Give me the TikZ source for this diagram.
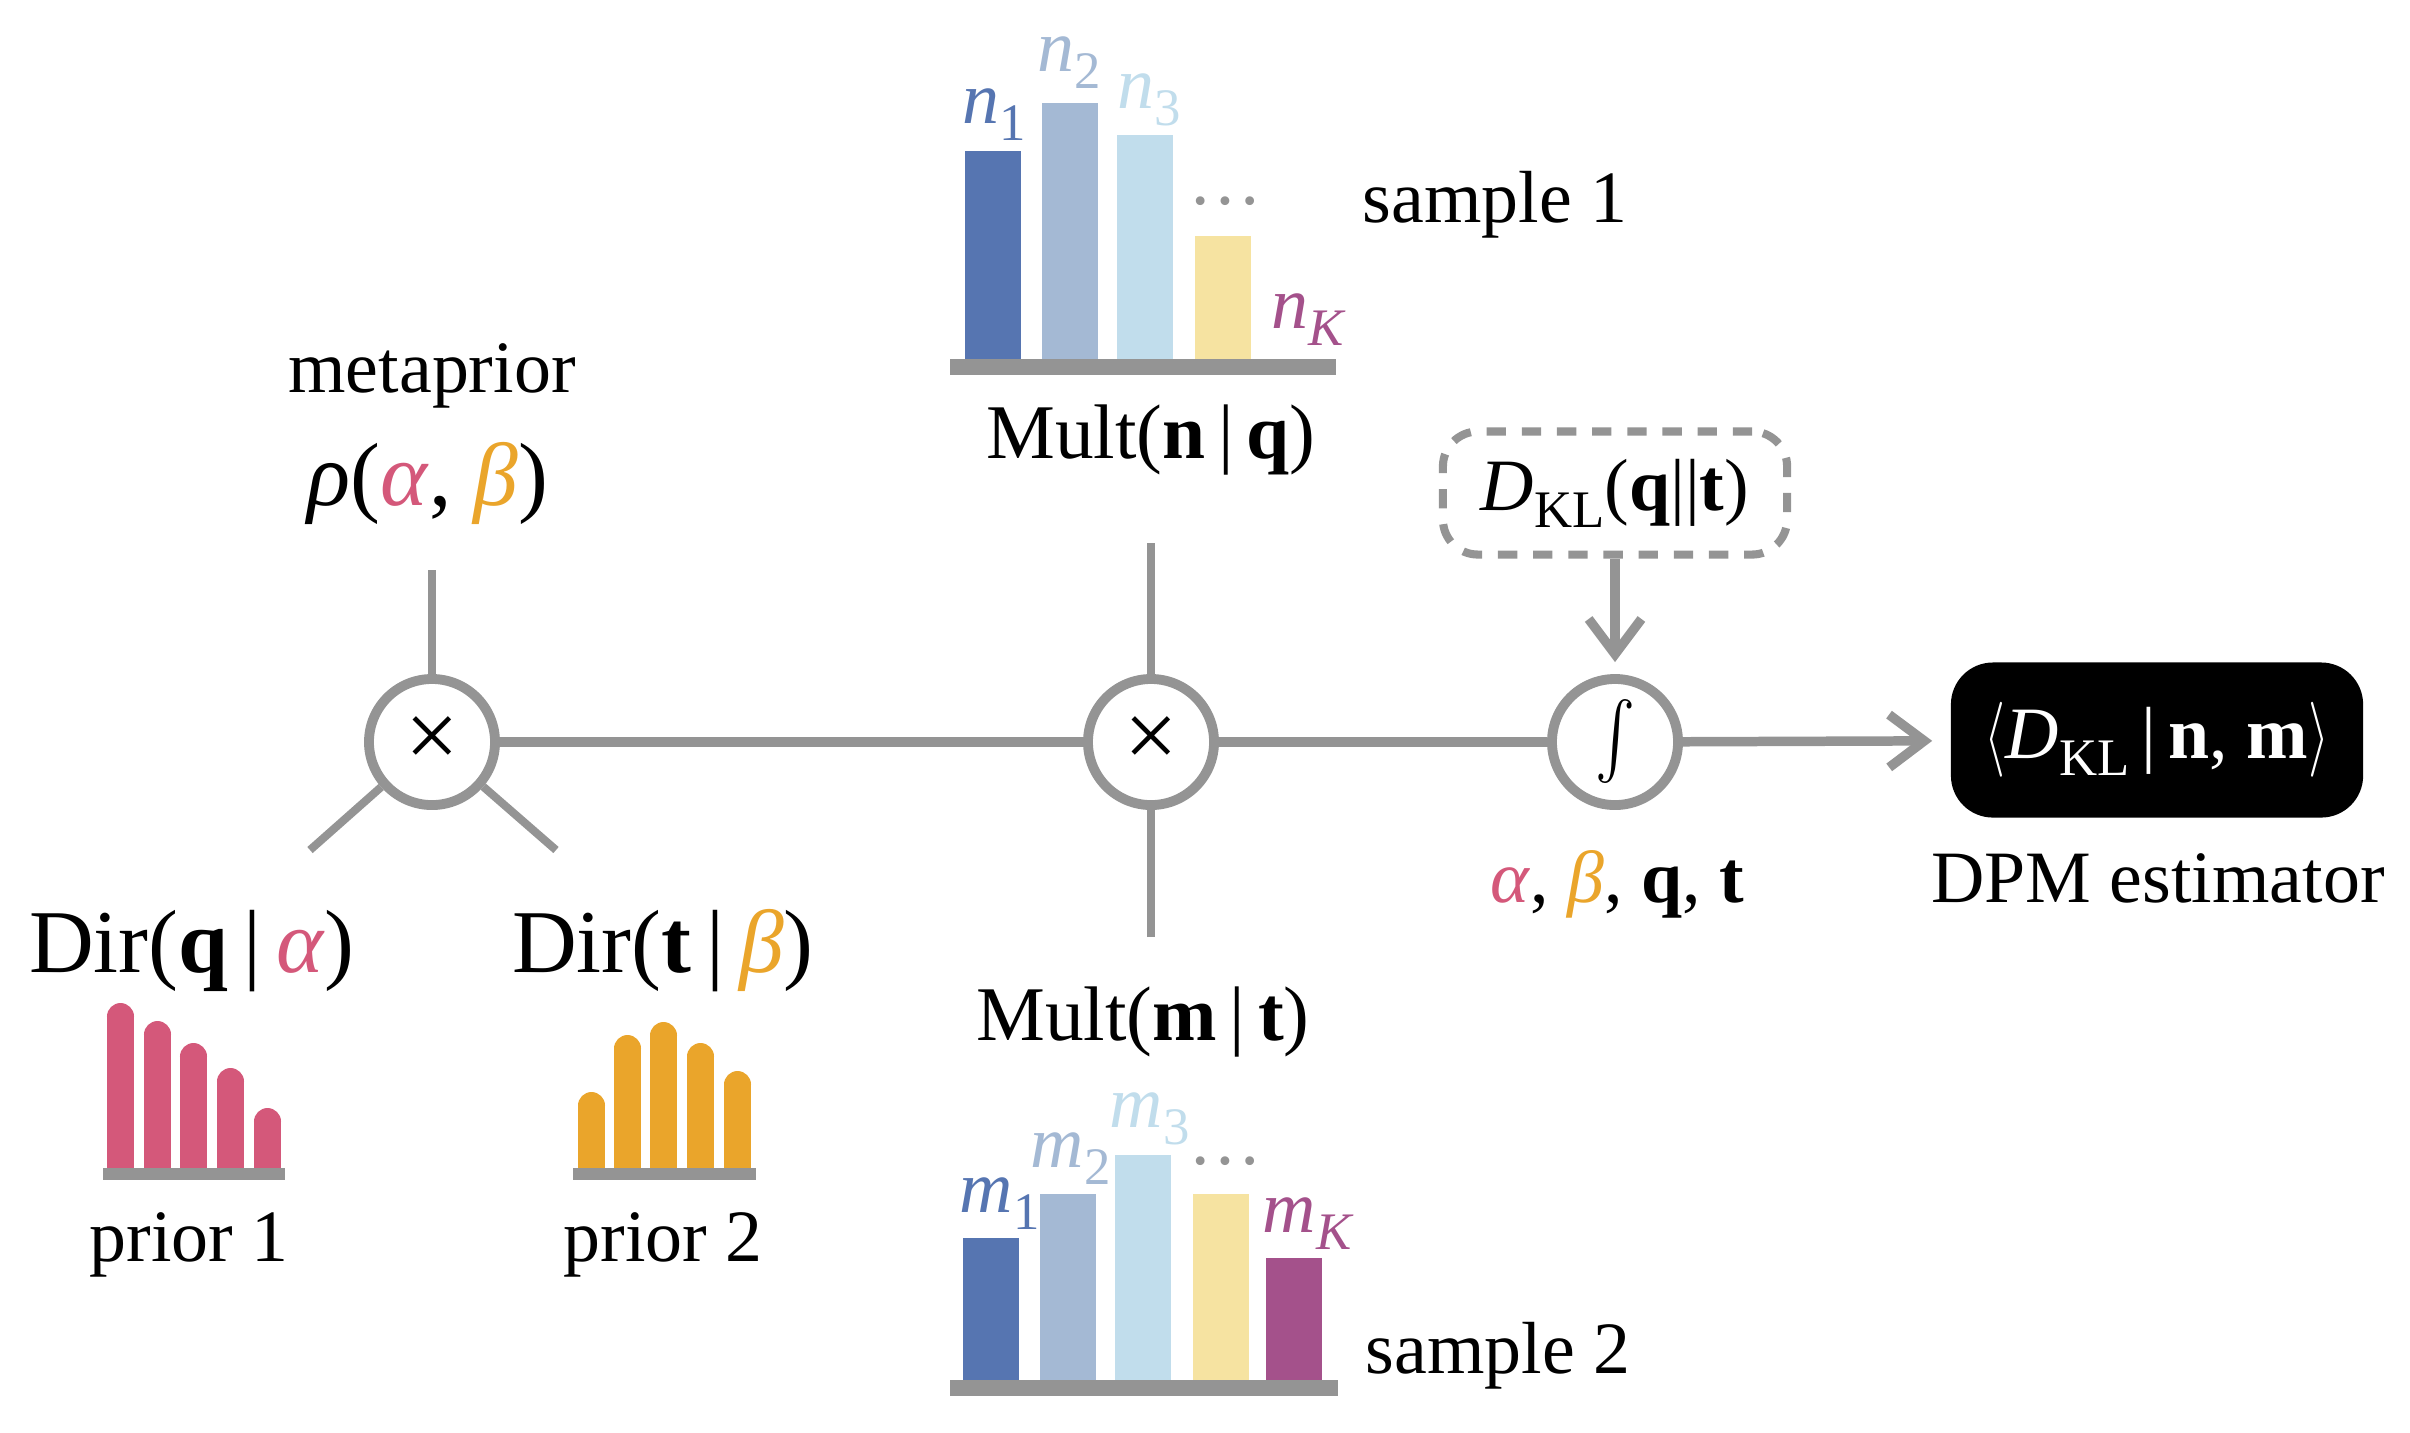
\RequirePackage{fix-cm}
\documentclass[tikz,border=0pt]{standalone}
\usepackage{graphicx}
\usepackage{fontspec}
\setmainfont{Liberation Serif}
\usetikzlibrary{arrows.meta}
\definecolor{lgray}{HTML}{949494}
\definecolor{cpink}{HTML}{D4587A}
\definecolor{corange}{HTML}{EAA52B}
\definecolor{cbA}{HTML}{5675B1}
\definecolor{cbB}{HTML}{A4B9D4}
\definecolor{cbC}{HTML}{C1DDEC}
\definecolor{cbD}{HTML}{F6E3A1}
\definecolor{cbE}{HTML}{A4518B}
\newcommand{\mysub}[1]{\raisebox{-0.23em}{\fontsize{15}{15}\selectfont #1}}
\newcommand{\myla}{\resizebox*{0.21cm}{0.75cm}{$\langle$}}
\newcommand{\myra}{\resizebox*{0.21cm}{0.75cm}{$\rangle$}}
\begin{document}
\begin{tikzpicture}[x=0.01cm,y=-0.01cm,
  txt/.style={font=\fontsize{21}{25}\selectfont, inner sep=0pt},
  midtxt/.style={font=\fontsize{22}{26}\selectfont, inner sep=0pt},
  bigtxt/.style={font=\fontsize{25.5}{30}\selectfont, inner sep=0pt},
  lbl/.style={txt, anchor=base},
  barlbl/.style={txt, anchor=base west},
  conn/.style={draw=lgray, line width=2.7pt},
  spoke/.style={draw=lgray, line width=2.3pt},
  opnode/.style={circle, draw=lgray, line width=2.8pt, fill=white, minimum size=1.26cm, inner sep=0pt},
  tip/.style={-{Straight Barb[length=10pt,width=15pt]}},
  groundbar/.style={fill=lgray},
]
\useasboundingbox (0,0) rectangle (2410,1432);

% ---------- prior bars ----------
\foreach \x/\t in {107/1003,144/1021,180/1043,217/1068,254/1108}{
  \fill[cpink] (\x,1168) rectangle ({\x+27},{\t+13.5});
  \fill[cpink] ({\x+13.5},{\t+13.5}) circle[radius=0.135cm];
}
\fill[groundbar] (103,1168) rectangle (285,1180);
\foreach \x/\t in {578/1092,614/1035,650/1022,687/1043,724/1071}{
  \fill[corange] (\x,1168) rectangle ({\x+27},{\t+13.5});
  \fill[corange] ({\x+13.5},{\t+13.5}) circle[radius=0.135cm];
}
\fill[groundbar] (573,1168) rectangle (756,1180);

% ---------- sample 1 bars ----------
\fill[cbA] (965,359) rectangle (1021,151);
\fill[cbB] (1042,359) rectangle (1098,103);
\fill[cbC] (1117,359) rectangle (1173,135);
\fill[cbD] (1195,359) rectangle (1251,236);
\fill[groundbar] (950,359) rectangle (1336,375);
\node[barlbl, text=cbA] (n1) at (962,123) {\textit{n}\mysub{1}};
\node[barlbl, text=cbB] (n2) at (1037,71) {\textit{n}\mysub{2}};
\node[barlbl, text=cbC] (n3) at (1117,108) {\textit{n}\mysub{3}};
\node[txt, text=lgray] (dots1) at (1225,201) {…};
\node[barlbl, text=cbE] (nK) at (1271,328) {\textit{n}\mysub{\textit{K}}};

% ---------- sample 2 bars ----------
\fill[cbA] (963,1380) rectangle (1019,1238);
\fill[cbB] (1040,1380) rectangle (1096,1194);
\fill[cbC] (1115,1380) rectangle (1171,1155);
\fill[cbD] (1193,1380) rectangle (1249,1194);
\fill[cbE] (1266,1380) rectangle (1322,1258);
\fill[groundbar] (950,1380) rectangle (1338,1396);
\node[barlbl, text=cbA] (m1) at (959,1212) {\textit{m}\mysub{1}};
\node[barlbl, text=cbB] (m2) at (1030,1167) {\textit{m}\mysub{2}};
\node[barlbl, text=cbC] (m3) at (1109,1127) {\textit{m}\mysub{3}};
\node[txt, text=lgray] (dots2) at (1225,1161) {…};
\node[barlbl, text=cbE] (mK) at (1262,1232) {\textit{m}\mysub{\textit{K}}};

% ---------- operator nodes ----------
\node[opnode] (c1) at (432,742) {\fontsize{27}{27}\selectfont ×};
\node[opnode] (c2) at (1151,742) {\fontsize{27}{27}\selectfont ×};
\node[opnode] (c3) at (1615,742) {\resizebox*{0.4cm}{0.84cm}{$\int$}};

\node[draw=lgray, line width=2.3pt, dash pattern=on 5.5pt off 4.5pt, rounded corners=0.35cm,
      minimum width=3.44cm, minimum height=1.23cm, txt] (kl) at (1615,493)
      {\textit{D}\mysub{KL}(\textbf{q}||\textbf{t})};
\node[fill=black, rounded corners=0.42cm, minimum width=4.12cm, minimum height=1.55cm,
      txt, text=white] (est) at (2157,740)
      {\myla\textit{D}\mysub{KL}\,|\,\textbf{n}, \textbf{m}\myra};

\coordinate (c1top) at (432,570);
\coordinate (c1dl) at (310,850);
\coordinate (c1dr) at (556,850);
\coordinate (c2top) at (1151,543);
\coordinate (c2bot) at (1151,937);

\draw[spoke] (c1top) -- (c1);
\draw[spoke] (c1dl) -- (c1);
\draw[spoke] (c1dr) -- (c1);
\draw[spoke] (c2top) -- (c2);
\draw[spoke] (c2bot) -- (c2);
\draw[conn] (c1) -- (c2);
\draw[conn] (c2) -- (c3);
\draw[conn, tip, shorten >=0.18cm] (c3) -- (est);
\draw[conn, tip, shorten >=0.12cm] (kl.south) -- (c3.north);

% ---------- labels ----------
\node[lbl] (meta) at (432,392) {metaprior};
\node[bigtxt, anchor=base] (rho) at (428,505) {\textit{ρ}(\textcolor{cpink}{\textit{α}}, \textcolor{corange}{\textit{β}})};
\node[midtxt, anchor=base] (multn) at (1151,458) {Mult(\textbf{n}\,|\,\textbf{q})};
\node[midtxt, anchor=base] (multm) at (1143,1040) {Mult(\textbf{m}\,|\,\textbf{t})};
\node[bigtxt, anchor=base] (dirq) at (192,972) {Dir(\textbf{q}\,|\,\textcolor{cpink}{\textit{α}})};
\node[bigtxt, anchor=base] (dirt) at (663,972) {Dir(\textbf{t}\,|\,\textcolor{corange}{\textit{β}})};
\node[lbl] (p1) at (189,1261) {prior 1};
\node[lbl] (p2) at (663,1261) {prior 2};
\node[lbl] (s1) at (1495,222) {sample 1};
\node[lbl] (s2) at (1498,1373) {sample 2};
\node[lbl] (params) at (1617,902) {\textcolor{cpink}{\textit{α}}, \textcolor{corange}{\textit{β}}, \textbf{q}, \textbf{t}};
\node[lbl] (dpm) at (2158,902) {DPM estimator};
\end{tikzpicture}
\end{document}
